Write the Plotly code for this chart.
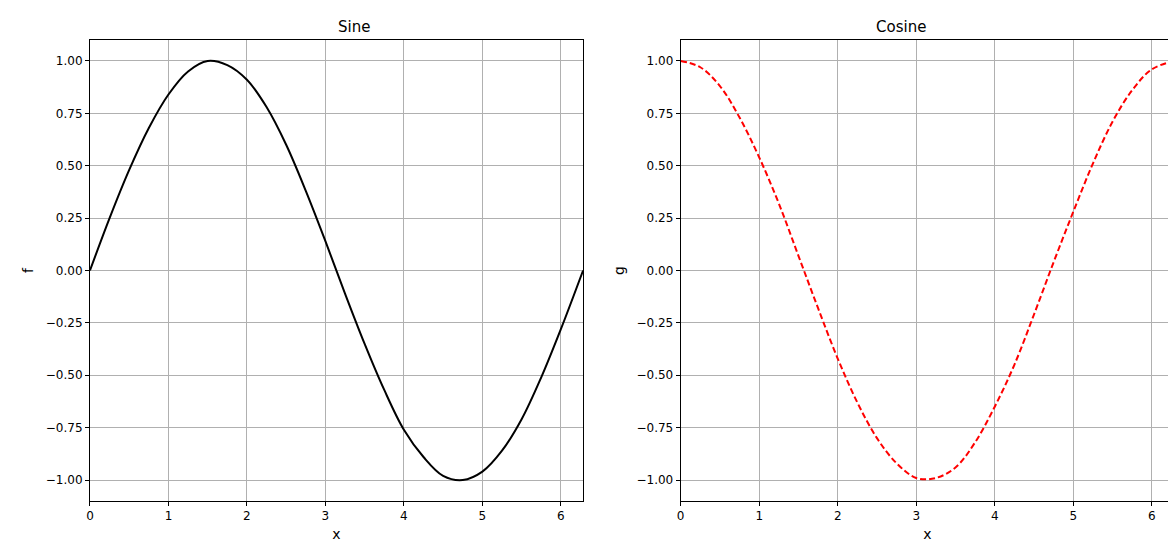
import plotly.graph_objects as go

x_sin = [0, 0.25, 0.5, 0.75, 1, 1.25, 1.5, 1.75, 2, 2.25, 2.5, 2.75, 3, 3.25, 3.5, 3.75, 4, 4.25, 4.5, 4.75, 5, 5.25, 5.5, 5.75, 6, 6.283]
f_vals = [0, 0.25, 0.48, 0.68, 0.84, 0.95, 1.0, 0.98, 0.91, 0.78, 0.60, 0.38, 0.14, -0.11, -0.35, -0.57, -0.76, -0.89, -0.98, -1.0, -0.96, -0.86, -0.71, -0.51, -0.28, 0]
x_cos = [0, 0.25, 0.5, 0.75, 1, 1.25, 1.5, 1.75, 2, 2.25, 2.5, 2.75, 3, 3.25, 3.5, 3.75, 4, 4.25, 4.5, 4.75, 5, 5.25, 5.5, 5.75, 6, 6.283]
g_vals = [1, 0.97, 0.88, 0.73, 0.54, 0.32, 0.07, -0.18, -0.42, -0.63, -0.80, -0.92, -0.99, -0.99, -0.94, -0.82, -0.65, -0.45, -0.21, 0.04, 0.28, 0.51, 0.71, 0.86, 0.96, 1.0]
y_ticks = [1.0, 0.75, 0.5, 0.25, 0.0, -0.25, -0.5, -0.75, -1.0]
y_labels = ["1.00", "0.75", "0.50", "0.25", "0.00", "−0.25", "−0.50", "−0.75", "−1.00"]

fig = go.Figure()
fig.add_trace(go.Scatter(x=x_sin, y=f_vals, mode="lines", line=dict(color="black", width=2, shape="spline", smoothing=1.0), xaxis="x", yaxis="y"))
fig.add_trace(go.Scatter(x=x_cos, y=g_vals, mode="lines", line=dict(color="red", width=2, dash="6px,3px", shape="spline", smoothing=1.0), xaxis="x2", yaxis="y2"))

ax = dict(showline=True, linecolor="black", mirror=True, ticks="outside", ticklen=4, tickcolor="black",
          showgrid=True, gridcolor="#b0b0b0", gridwidth=1, zeroline=False, automargin=False)
xd = dict(range=[0, 6.283], tickvals=[0, 1, 2, 3, 4, 5, 6], **ax)
yd = dict(range=[-1.1, 1.1], tickvals=y_ticks, ticktext=y_labels, **ax)
fig.update_layout(
    width=1176, height=547, showlegend=False, plot_bgcolor="white", paper_bgcolor="white",
    margin=dict(l=0, r=0, t=0, b=0),
    font=dict(family="DejaVu Sans", size=12, color="black"),
    xaxis=dict(domain=[0.0697, 0.489], anchor="y", title=dict(text="x", standoff=6), **xd),
    yaxis=dict(domain=[0.0987, 0.9415], anchor="x", title=dict(text="f", standoff=8), **yd),
    xaxis2=dict(domain=[0.572, 0.9915], anchor="y2", title=dict(text="x", standoff=6), **xd),
    yaxis2=dict(domain=[0.0987, 0.9415], anchor="x2", title=dict(text="g", standoff=8), **yd),
    annotations=[
        dict(text="Sine", x=0.279, y=0.9415, xref="paper", yref="paper", yanchor="bottom", showarrow=False, yshift=2, font=dict(size=15)),
        dict(text="Cosine", x=0.782, y=0.9415, xref="paper", yref="paper", yanchor="bottom", showarrow=False, yshift=2, font=dict(size=15)),
    ],
)
fig.write_html("out.html")
